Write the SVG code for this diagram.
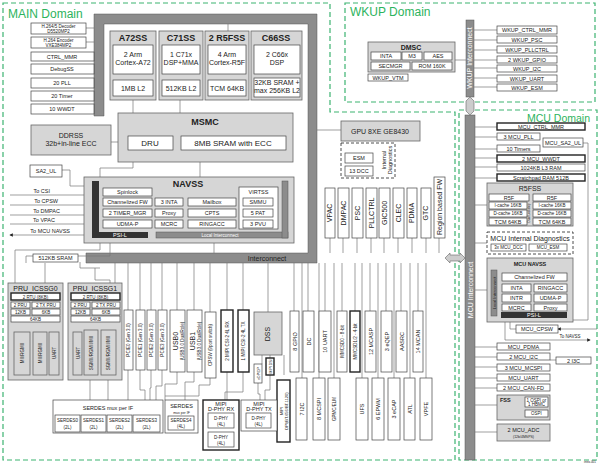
<svg xmlns="http://www.w3.org/2000/svg" width="600" height="465" viewBox="0 0 600 465">
<style>
text{font-family:"Liberation Sans",Arial,sans-serif;font-size:5.5px;fill:#222;text-anchor:middle}
.b{fill:#fff;stroke:#444;stroke-width:0.7}
.k{fill:#fff;stroke:#222;stroke-width:1.4}
.g{fill:#d6d6d6;stroke:#666;stroke-width:0.8}
.bar{fill:#8c8c8c;stroke:#555;stroke-width:0.5}
.dk{fill:#333}
.dom{fill:none;stroke:#3cb371;stroke-width:1.2;stroke-dasharray:5,3}
.dd{fill:none;stroke:#222;stroke-width:0.8;stroke-dasharray:3,2}
.ln{stroke:#777;stroke-width:0.7;fill:none}
.dl{font-size:12px;fill:#2db35d;text-anchor:start}
.h{font-size:9px;font-weight:bold}
.m{font-size:7px}
.s{font-size:4.5px}
.l{text-anchor:start}
.r{text-anchor:end}
.w{fill:#fff}
</style>
<defs>
<marker id="ar" markerWidth="5" markerHeight="5" refX="4" refY="2.5" orient="auto"><path d="M0,0L5,2.5L0,5z" fill="#222"/></marker>
</defs>
<!-- domains -->
<path class="dom" d="M3,3H330V112H455V460H3Z"/>
<text class="dl" x="8" y="18">MAIN Domain</text>
<rect class="dom" x="345" y="3" width="250" height="99"/>
<text class="dl" x="350" y="16">WKUP Domain</text>
<rect class="dom" x="459" y="110" width="138" height="350"/>
<text class="dl" x="527" y="122" style="font-size:10.5px">MCU Domain</text>

<g id="connectors">
<path class="bar" d="M94,14H317V263H86V253H308V24H104V116H94Z"/>
<text x="267" y="260.5" class="m">Interconnect</text>
<path class="ln" d="M86,28H94M86,42H94"/>
<path class="ln" d="M228,24V31M133,99V113M180,99V113M111,142H118M317,130H341M200,162V177M70,170V186H92M62,170H70M133,162V168H100V181"/>
<path class="ln" d="M100,243V250H15V283M110,243V256H26V263M80,262V268H100M95,268V280H110V283"/>
<path class="ln" d="M214,243V253"/>
<path class="ln" d="M330,238V253M343,238V253M357,238V253M371,238V253M384,238V253M398,238V253M412,238V253M426,238V253M439,238V253"/>
<path class="ln" d="M128,263V310M140,263V310M151,263V310M162,263V310M177,263V310M194,263V310M210,263V312M227,263V310M243,263V310M268,263V312M294,263V311M308,263V311M325,263V311M342,263V311M355,263V311M370,263V311M386,263V311M401,263V311M418,263V311M302,263V378M319,263V378M334,263V378M362,263V378M378,263V378M394,263V378M410,263V378M426,263V378"/>
<path class="ln" d="M45,263V283M115,263V283"/>
<path class="ln" d="M90,375V400M108,375V400M128,370V400M140,370V390H145V400M151,370V388H150V400M162,370V386H156V400M177,372V384H165V400M194,372V382H185V400M210,378V385H199V396H165"/>
<path class="ln" d="M227,372V400M243,372V392H225V400M258,383V394H260V400M270,375V390H265V400M284,355V375M262,355V364M270,355V358"/>
<path class="ln" d="M92,195H10M92,205H10M92,215H10M92,224H10M92,235H10" stroke="#333" marker-end="url(#ar)"/>
<rect class="bar" x="466" y="20" width="8" height="77"/>
<text transform="translate(472,58) rotate(-90)" class="m w">WKUP Interconnect</text>
<rect class="bar" x="465" y="115" width="10" height="345"/>
<text transform="translate(472.5,290) rotate(-90)" class="m w">MCU Interconnect</text>
<path d="M470,97L474,101V111L470,115L466,111V101Z" fill="#ccc" stroke="#666" stroke-width="0.6"/>
<path d="M445,258L450,253V255H460V253L465,258L460,263V261H450V263Z" fill="#ccc" stroke="#666" stroke-width="0.6"/>
<path class="ln" d="M455,60H466M474,30H497M474,40H497M474,50H497M474,60H497M474,68H497M474,78H497M474,87H497"/>
<path class="ln" d="M475,127H497M475,137H497M475,149H497M475,158H497M475,167H497M475,178H497M475,205H487M475,243H487M475,290H491M583,143H588V320H567"/>
<path class="ln" d="M475,347H497M475,357H497M475,367H497M475,378H497M475,388H497M475,405H497M475,432H497M550,360H556"/>
<path class="ln" d="M597,329H558" stroke="#333" marker-end="url(#ar)"/>
<path class="ln" d="M510,318V329H516"/>
<path class="ln" d="M505,318V340H590" stroke="#333" marker-end="url(#ar)"/>
</g>

<g id="main-periph">
<rect class="b" x="31" y="23" width="55" height="11"/><text class="s" x="58.5" y="28">H.264/5 Decoder</text><text class="s" x="58.5" y="33">D5520MP2</text>
<rect class="b" x="31" y="37" width="55" height="11"/><text class="s" x="58.5" y="42">H.264 Encoder</text><text class="s" x="58.5" y="47">VXE384MP2</text>
<rect class="b" x="31" y="52" width="63" height="9"/><text x="62" y="58.5">CTRL_MMR</text>
<rect class="b" x="31" y="64" width="63" height="10"/><text x="62" y="71">DebugSS</text>
<rect class="b" x="31" y="78" width="63" height="10"/><text x="62" y="85">20  PLL</text>
<rect class="b" x="31" y="91" width="63" height="10"/><text x="62" y="98">20  Timer</text>
<rect class="b" x="31" y="104" width="63" height="10"/><text x="62" y="111">10  WWDT</text>
</g>
<g id="a72ss"><rect class="g" x="110" y="31" width="46" height="69"/><text class="h" x="133" y="41">A72SS</text>
<rect class="b" x="113" y="45" width="40" height="29"/><text class="m" x="133" y="57">2  Arm</text><text class="m" x="133" y="65">Cortex-A72</text>
<rect class="b" x="113" y="80" width="40" height="16"/><text class="m" x="133" y="90.5">1MB L2</text></g>
<g id="c71ss"><rect class="g" x="159" y="31" width="44" height="69"/><text class="h" x="181" y="41">C71SS</text>
<rect class="b" x="162" y="45" width="38" height="29"/><text class="m" x="181" y="57">1  C71x</text><text class="m" x="181" y="65">DSP+MMA</text>
<rect class="b" x="162" y="80" width="38" height="16"/><text class="m" x="181" y="90.5">512KB L2</text></g>
<g id="r5fss"><rect class="g" x="205" y="31" width="44" height="69"/><text class="h" x="227" y="41">2  R5FSS</text>
<rect class="b" x="208" y="45" width="38" height="29"/><text class="m" x="227" y="57">4  Arm</text><text class="m" x="227" y="65">Cortex-R5F</text>
<rect class="b" x="208" y="80" width="38" height="16"/><text class="m" x="227" y="90.5">TCM 64KB</text></g>
<g id="c66ss"><rect class="g" x="251" y="31" width="51" height="69"/><text class="h" x="276" y="41">C66SS</text>
<rect class="b" x="254" y="45" width="46" height="29"/><text class="m" x="277" y="57">2  C66x</text><text class="m" x="277" y="65">DSP</text>
<rect class="b" x="254" y="78" width="46" height="19"/><text class="m" x="277" y="85">32KB SRAM +</text><text class="m" x="277" y="93">max 256KB L2</text></g>
<g id="msmc"><rect class="g" x="118" y="113" width="175" height="49"/><text class="h" x="205" y="125">MSMC</text>
<rect class="b" x="128" y="136" width="45" height="14"/><text x="150" y="146" style="font-size:8px">DRU</text>
<rect class="b" x="181" y="136" width="105" height="14"/><text x="233" y="146" style="font-size:8px">8MB SRAM with ECC</text></g>
<g id="ddrss"><rect class="g" x="31" y="125" width="80" height="30"/><text class="m" x="71" y="138">DDRSS</text><text class="m" x="71" y="146">32b+in-line ECC</text></g>
<g id="gpu"><rect class="g" x="341" y="121" width="79" height="20"/><text class="m" x="380" y="133.5">GPU 8XE GE8430</text></g>
<g id="diag"><rect class="dd" x="341" y="143" width="54" height="35"/>
<rect class="b" x="345" y="153" width="28" height="10"/><text x="359" y="160">ESM</text>
<rect class="b" x="345" y="166" width="28" height="10"/><text x="359" y="173">13  DCC</text>
<text transform="translate(386,160) rotate(-90)">Internal</text><text transform="translate(392,160) rotate(-90)">Diagnostics</text></g>
<g id="ctrl-row">
<rect class="b" x="325" y="188" width="10" height="50"/><text transform="translate(332,213) rotate(-90)" class="m">VPAC</text>
<rect class="b" x="338" y="188" width="11" height="50"/><text transform="translate(346,213) rotate(-90)" class="m">DMPAC</text>
<rect class="b" x="352" y="188" width="11" height="50"/><text transform="translate(360,213) rotate(-90)" class="m">PSC</text>
<rect class="b" x="366" y="188" width="11" height="50"/><text transform="translate(374,213) rotate(-90)" class="m">PLLCTRL</text>
<rect class="b" x="379" y="188" width="11" height="50"/><text transform="translate(387,213) rotate(-90)" class="m">GIC500</text>
<rect class="b" x="393" y="188" width="11" height="50"/><text transform="translate(401,213) rotate(-90)" class="m">CLEC</text>
<rect class="b" x="407" y="188" width="10" height="50"/><text transform="translate(414,213) rotate(-90)" class="m">PDMA</text>
<rect class="b" x="421" y="188" width="10" height="50"/><text transform="translate(428,213) rotate(-90)" class="m">GTC</text>
<rect class="b" x="434" y="177" width="11" height="61"/><text transform="translate(442,207) rotate(-90)" class="m">Region based FW</text>
</g>
<g id="navss"><rect class="g" x="84" y="177" width="210" height="66"/><text class="h" x="188" y="187">NAVSS</text>
<rect class="dk" x="92" y="181" width="7" height="57"/><rect class="dk" x="92" y="232" width="56" height="6"/><text class="w" x="120" y="237">PSI-L</text>
<rect class="bar" x="156" y="232" width="132" height="6"/><rect class="bar" x="282" y="181" width="6" height="57"/><text class="w" x="220" y="237" style="font-size:4.5px">Local Interconnect</text>
<rect class="b" x="103" y="188" width="49" height="8"/><text x="127.5" y="194">Spinlock</text>
<rect class="b" x="103" y="198" width="49" height="8"/><text x="127.5" y="204">Channelized FW</text>
<rect class="b" x="103" y="209" width="49" height="8"/><text x="127.5" y="215">2  TIMER_MGR</text>
<rect class="b" x="103" y="220" width="49" height="8"/><text x="127.5" y="226">UDMA-P</text>
<rect class="b" x="155" y="198" width="28" height="8"/><text x="169" y="204">3  INTA</text>
<rect class="b" x="155" y="209" width="28" height="8"/><text x="169" y="215">Proxy</text>
<rect class="b" x="155" y="220" width="28" height="8"/><text x="169" y="226">MCRC</text>
<rect class="b" x="188" y="198" width="48" height="8"/><text x="212" y="204">Mailbox</text>
<rect class="b" x="188" y="209" width="48" height="8"/><text x="212" y="215">CPTS</text>
<rect class="b" x="188" y="220" width="48" height="8"/><text x="212" y="226">RINGACC</text>
<rect class="b" x="239" y="187" width="39" height="42"/><text x="258.5" y="194">VIRTSS</text>
<rect class="b" x="243" y="198" width="30" height="8"/><text x="258" y="204">SMMU</text>
<rect class="b" x="243" y="209" width="30" height="8"/><text x="258" y="215">5  PAT</text>
<rect class="b" x="243" y="220" width="30" height="8"/><text x="258" y="226">3  PVU</text></g>
<text class="r" x="50" y="193">To CSI</text><text class="r" x="58" y="203">To CPSW</text><text class="r" x="60" y="213">To DMPAC</text><text class="r" x="55" y="222">To VPAC</text><text class="r" x="70" y="233">To MCU NAVSS</text>
<g id="sa2ul"><rect class="b" x="30" y="165" width="32" height="12"/><text x="46" y="173">SA2_UL</text></g>
<g id="sram"><rect class="b" x="33" y="254" width="45" height="8"/><text x="55.5" y="260">512KB SRAM</text></g>
<g id="pru0"><rect class="g" x="8" y="283" width="55" height="97"/><text class="m" x="35.5" y="291">PRU_ICSSG0</text>
<rect class="k" x="11" y="293" width="49" height="7"/><text class="s" x="35.5" y="298.5">2  RTU (8KB)</text>
<rect class="b" x="11" y="302" width="19" height="6"/><text class="s" x="20.5" y="306.8">2  PRU</text><rect class="b" x="32" y="302" width="28" height="6"/><text class="s" x="46" y="306.8">2  TX PRU</text>
<rect class="b" x="11" y="309" width="19" height="6"/><text class="s" x="20.5" y="313.8">12KB</text><rect class="b" x="32" y="309" width="28" height="6"/><text class="s" x="46" y="313.8">6KB</text>
<rect class="b" x="11" y="316" width="49" height="6"/><text class="s" x="35.5" y="320.8">64KB</text>
<rect class="g" x="14" y="332" width="16" height="43"/><text class="s" transform="translate(24,353) rotate(-90)">MII/RGMII</text>
<rect class="g" x="33" y="332" width="14" height="43"/><text class="s" transform="translate(42,353) rotate(-90)">MII/RGMII</text>
<rect class="g" x="49" y="332" width="10" height="43"/><text class="s" transform="translate(56,353) rotate(-90)">UART</text></g>
<g id="pru1"><rect class="g" x="68" y="283" width="54" height="97"/><text class="m" x="95" y="291">PRU_ICSSG1</text>
<rect class="k" x="71" y="293" width="49" height="7"/><text class="s" x="95.5" y="298.5">2  RTU (8KB)</text>
<rect class="b" x="71" y="302" width="19" height="6"/><text class="s" x="80.5" y="306.8">2  PRU</text><rect class="b" x="92" y="302" width="28" height="6"/><text class="s" x="106" y="306.8">2  TX PRU</text>
<rect class="b" x="71" y="309" width="19" height="6"/><text class="s" x="80.5" y="313.8">12KB</text><rect class="b" x="92" y="309" width="28" height="6"/><text class="s" x="106" y="313.8">6KB</text>
<rect class="b" x="71" y="316" width="49" height="6"/><text class="s" x="95.5" y="320.8">64KB</text>
<rect class="g" x="73" y="332" width="9" height="43"/><text class="s" transform="translate(79.5,353) rotate(-90)">UART</text>
<rect class="g" x="84" y="330" width="14" height="45"/><text class="s" transform="translate(93,353) rotate(-90)">SGMII/RGMII/MII</text>
<rect class="g" x="101" y="330" width="15" height="45"/><text class="s" transform="translate(110,353) rotate(-90)">SGMII/RGMII/MII</text></g>
<g id="hs">
<rect class="b" x="124" y="310" width="9" height="60"/><text class="s" transform="translate(130,340) rotate(-90)">PCIE0 (Gen 3.0)</text>
<rect class="b" x="136" y="310" width="9" height="60"/><text class="s" transform="translate(142,340) rotate(-90)">PCIE1 (Gen 3.0)</text>
<rect class="b" x="147" y="310" width="9" height="60"/><text class="s" transform="translate(153,340) rotate(-90)">PCIE2 (Gen 3.0)</text>
<rect class="b" x="158" y="310" width="9" height="60"/><text class="s" transform="translate(164,340) rotate(-90)">PCIE3 (Gen 3.0)</text>
<rect class="b" x="170" y="310" width="15" height="62"/><text class="m" transform="translate(178,341) rotate(-90)">USB0</text><text class="s" transform="translate(184,341) rotate(-90)">(USB3.0 DualRole)</text>
<rect class="b" x="187" y="310" width="15" height="62"/><text class="m" transform="translate(195,341) rotate(-90)">USB1</text><text class="s" transform="translate(201,341) rotate(-90)">(USB3.0 DualRole)</text>
<rect class="b" x="205" y="312" width="11" height="66"/><text class="s" transform="translate(212,345) rotate(-90)">CPSW (9port switch)</text>
<rect class="k" x="221" y="310" width="12" height="62"/><text class="s" transform="translate(229,341) rotate(-90)">2  MIPI CSI-2 4L RX</text>
<rect class="k" x="238" y="310" width="11" height="62"/><text class="s" transform="translate(245,341) rotate(-90)">1  MIPI CSI-2 4L TX</text>
<rect class="g" x="254" y="312" width="28" height="43"/><text class="m" transform="translate(270,334) rotate(-90)">DSS</text>
<rect class="b" x="254" y="364" width="8" height="19"/><text class="s" style="font-size:3.5px" transform="translate(259.5,373.5) rotate(-90)">eDP/DP</text>
<rect class="k" x="266" y="358" width="8" height="17"/><text class="s" style="font-size:3.5px" transform="translate(271.5,366.5) rotate(-90)">MIPI DSI</text>
<rect class="k" x="277" y="380" width="13" height="62"/><text class="s" style="font-size:4px" transform="translate(283,411) rotate(-90)">MIPI</text><text class="s" style="font-size:4px" transform="translate(288,411) rotate(-90)">DPI(BT.656/BT.1120)</text>
</g>
<g id="periph1">
<rect class="b" x="290" y="311" width="9" height="61"/><text transform="translate(296.5,341.5) rotate(-90)">8  GPIO</text>
<rect class="b" x="303" y="311" width="11" height="61"/><text transform="translate(310.5,341.5) rotate(-90)">DC</text>
<rect class="b" x="319" y="311" width="12" height="61"/><text transform="translate(327,341.5) rotate(-90)">10  UART</text>
<rect class="b" x="337" y="311" width="10" height="61"/><text class="s" transform="translate(344,341.5) rotate(-90)">MMCSD0 - 8-bit</text>
<rect class="k" x="350" y="311" width="10" height="61"/><text class="s" transform="translate(357,341.5) rotate(-90)">MMCSD1/2 - 4-bit</text>
<rect class="b" x="365" y="311" width="11" height="61"/><text transform="translate(372.5,341.5) rotate(-90)">12  MCASP</text>
<rect class="b" x="381" y="311" width="11" height="61"/><text transform="translate(388.5,341.5) rotate(-90)">3  eQEP</text>
<rect class="b" x="396" y="311" width="11" height="61"/><text transform="translate(403.5,341.5) rotate(-90)">AASRC</text>
<rect class="b" x="413" y="311" width="10" height="61"/><text transform="translate(420,341.5) rotate(-90)">14  MCAN</text>
</g>
<g id="periph2">
<rect class="b" x="296" y="378" width="11" height="62"/><text transform="translate(303.5,409) rotate(-90)">7  I2C</text>
<rect class="b" x="313" y="378" width="12" height="62"/><text transform="translate(321,409) rotate(-90)">8  MCSPI</text>
<rect class="b" x="328" y="378" width="12" height="62"/><text class="s" transform="translate(336,409) rotate(-90)">GPMC/ELM</text>
<rect class="b" x="356" y="378" width="12" height="62"/><text transform="translate(364,409) rotate(-90)">UFS</text>
<rect class="b" x="372" y="378" width="12" height="62"/><text transform="translate(380,409) rotate(-90)">6  EPWM</text>
<rect class="b" x="388" y="378" width="12" height="62"/><text transform="translate(396,409) rotate(-90)">3  eCAP</text>
<rect class="b" x="404" y="378" width="11" height="62"/><text transform="translate(411.5,409) rotate(-90)">ATL</text>
<rect class="b" x="420" y="378" width="12" height="62"/><text transform="translate(428,409) rotate(-90)">VPFE</text>
</g>
<g id="serdes"><rect class="b" x="53" y="400" width="110" height="33"/><text x="108" y="410">SERDES mux per IF</text>
<rect class="b" x="55" y="415" width="25" height="17"/><text class="s" x="67.5" y="422">SERDES0</text><text class="s" x="67.5" y="429">(2L)</text>
<rect class="b" x="81" y="415" width="25" height="17"/><text class="s" x="93.5" y="422">SERDES1</text><text class="s" x="93.5" y="429">(2L)</text>
<rect class="b" x="107" y="415" width="25" height="17"/><text class="s" x="119.5" y="422">SERDES2</text><text class="s" x="119.5" y="429">(2L)</text>
<rect class="b" x="133" y="415" width="27" height="17"/><text class="s" x="146.5" y="422">SERDES3</text><text class="s" x="146.5" y="429">(2L)</text></g>
<g id="serdes4"><rect class="b" x="165" y="400" width="33" height="33"/><text x="181.5" y="408">SERDES</text><text x="181.5" y="414" style="font-size:3.5px">mux per IF</text>
<rect class="b" x="168" y="416" width="26" height="14"/><text class="s" x="181" y="422">SERDES4</text><text class="s" x="181" y="428">(4L)</text></g>
<g id="dphyrx"><rect class="k" x="203" y="400" width="36" height="50"/><text x="221" y="406">MIPI</text><text x="221" y="411">D-PHY RX</text>
<rect class="b" x="208" y="413" width="26" height="15"/><text class="s" x="221" y="419.5">D-PHY</text><text class="s" x="221" y="425.5">(4L)</text>
<rect class="b" x="208" y="432" width="26" height="15"/><text class="s" x="221" y="438.5">D-PHY</text><text class="s" x="221" y="444.5">(4L)</text></g>
<g id="dphytx"><rect class="b" x="241" y="400" width="36" height="31"/><text x="259" y="406">MIPI</text><text x="259" y="411">D-PHY TX</text>
<rect class="b" x="246" y="413" width="25" height="15"/><text class="s" x="258.5" y="419.5">D-PHY</text><text class="s" x="258.5" y="425.5">(4L)</text></g>
<g id="dmsc"><rect class="g" x="368" y="42" width="87" height="30"/><text class="m" x="411" y="50" style="font-weight:bold">DMSC</text>
<rect class="b" x="371" y="52" width="30" height="8"/><text x="386" y="58">INTA</text>
<rect class="b" x="402" y="52" width="20" height="8"/><text x="412" y="58">M3</text>
<rect class="b" x="424" y="52" width="28" height="8"/><text x="438" y="58">AES</text>
<rect class="b" x="371" y="62" width="39" height="8"/><text x="390.5" y="68">SECMGR</text>
<rect class="b" x="412" y="62" width="40" height="8"/><text x="432" y="68">ROM 160K</text></g>
<g id="wkupvtm"><rect class="b" x="368" y="74" width="40" height="7"/><text x="388" y="79.5">WKUP_VTM</text></g>
<g id="wkup-list">
<rect class="b" x="497" y="26" width="60" height="8"/><text x="527" y="32">WKUP_CTRL_MMR</text>
<rect class="b" x="497" y="36" width="60" height="7"/><text x="527" y="41.5">WKUP_PSC</text>
<rect class="b" x="497" y="46" width="60" height="7"/><text x="527" y="51.5">WKUP_PLLCTRL</text>
<rect class="b" x="497" y="56" width="60" height="7"/><text x="527" y="61.5">2  WKUP_GPIO</text>
<rect class="b" x="497" y="65" width="60" height="7"/><text x="527" y="70.5">WKUP_I2C</text>
<rect class="b" x="497" y="75" width="60" height="7"/><text x="527" y="80.5">WKUP_UART</text>
<rect class="b" x="497" y="84" width="60" height="7"/><text x="527" y="89.5">WKUP_ESM</text></g>
<g id="mcu-list">
<rect class="k" x="497" y="123" width="88" height="7"/><text x="541" y="128.5">MCU_CTRL_MMR</text>
<rect class="b" x="497" y="133" width="43" height="7"/><text x="518.5" y="138.5">3  MCU_PLL</text>
<rect class="b" x="543" y="138" width="40" height="9"/><text x="563" y="144.5">MCU_SA2_UL</text>
<rect class="b" x="497" y="145" width="43" height="7"/><text x="518.5" y="150.5">10  Timers</text>
<rect class="k" x="497" y="155" width="88" height="7"/><text x="541" y="160.5">2  MCU_WWDT</text>
<rect class="b" x="497" y="164" width="88" height="7"/><text x="541" y="169.5">1024KB L3 RAM</text>
<rect class="k" x="497" y="174" width="88" height="7"/><text x="541" y="179.5">Scratchpad RAM 512B</text></g>
<g id="mcu-r5fss"><rect class="g" x="487" y="183" width="86" height="43"/><text x="530" y="190.5" class="m">R5FSS</text>
<rect class="b" x="489" y="194" width="40" height="7"/><text x="509" y="199.5">R5F</text><rect class="b" x="533" y="194" width="38" height="7"/><text x="552" y="199.5">R5F</text>
<rect class="b" x="489" y="202" width="38" height="7"/><text class="s" x="508" y="207">I-cache 16KB</text><rect class="b" x="533" y="202" width="38" height="7"/><text class="s" x="552" y="207">I-cache 16KB</text>
<rect class="b" x="489" y="210" width="38" height="7"/><text class="s" x="508" y="215">D-cache 16KB</text><rect class="b" x="533" y="210" width="38" height="7"/><text class="s" x="552" y="215">D-cache 16KB</text>
<rect class="b" x="489" y="218" width="38" height="7"/><text x="508" y="223.5">TCM 64KB</text><rect class="b" x="533" y="218" width="38" height="7"/><text x="552" y="223.5">TCM 64KB</text>
<text transform="translate(530,213) rotate(-90)" style="font-size:3px">Dual Lockstep</text></g>
<g id="mcu-diag"><rect class="dd" x="487" y="232" width="86" height="22"/><text x="530" y="241" class="m">MCU Internal Diagnostics</text>
<rect class="b" x="491" y="244" width="35" height="7"/><text class="s" x="508.5" y="249">3x MCU_DCC</text>
<rect class="b" x="529" y="244" width="38" height="7"/><text class="s" x="548" y="249">MCU_ESM</text></g>
<g id="mcu-navss"><rect class="g" x="487" y="258" width="86" height="64"/><text x="530" y="266" style="font-weight:bold">MCU NAVSS</text>
<rect class="bar" x="491" y="270" width="6" height="46"/><text transform="translate(495.5,293) rotate(-90)" style="font-size:4px">Local Interconnect</text>
<rect class="b" x="502" y="273" width="65" height="8"/><text x="534.5" y="279">Channelized FW</text>
<rect class="b" x="502" y="284" width="29" height="8"/><text x="516.5" y="290">INTA</text><rect class="b" x="534" y="284" width="33" height="8"/><text x="550.5" y="290">RINGACC</text>
<rect class="b" x="502" y="294" width="29" height="8"/><text x="516.5" y="300">INTR</text><rect class="b" x="534" y="294" width="33" height="8"/><text x="550.5" y="300">UDMA-P</text>
<rect class="b" x="502" y="304" width="29" height="7"/><text x="516.5" y="309.5">MCRC</text><rect class="b" x="534" y="304" width="33" height="7"/><text x="550.5" y="309.5">Proxy</text>
<rect class="dk" x="501" y="312" width="66" height="6"/><text class="w" x="534" y="317">PSI-L</text></g>
<g id="mcu-cpsw"><rect class="b" x="516" y="325" width="42" height="8"/><text x="537" y="331">MCU_CPSW</text></g>
<text x="570" y="338" class="s">To NAVSS</text>
<g id="mcu-list2">
<rect class="b" x="497" y="343" width="53" height="7"/><text x="523.5" y="348.5">MCU_PDMA</text>
<rect class="b" x="497" y="353" width="53" height="7"/><text x="523.5" y="358.5">2  MCU_I2C</text>
<rect class="b" x="556" y="357" width="35" height="7"/><text x="573.5" y="362.5">2  I3C</text>
<rect class="b" x="497" y="364" width="53" height="7"/><text x="523.5" y="369.5">3  MCU_MCSPI</text>
<rect class="b" x="497" y="374" width="53" height="7"/><text x="523.5" y="379.5">MCU_UART</text>
<rect class="b" x="497" y="384" width="53" height="7"/><text x="523.5" y="389.5">2  MCU_CAN-FD</text>
<rect class="g" x="497" y="395" width="53" height="25"/><text class="l" x="500" y="402" style="font-weight:bold">FSS</text>
<rect class="b" x="525" y="397" width="23" height="10"/><text class="s" x="536.5" y="401.5">1  OSPI or</text><text class="s" x="536.5" y="406">1  HBMC</text>
<rect class="b" x="525" y="410" width="23" height="7"/><text class="s" x="536.5" y="415">OSPI</text>
<rect class="g" x="497" y="424" width="53" height="17"/><text x="523.5" y="432">2  MCU_ADC</text><text x="523.5" y="438" style="font-size:3.5px">(12b/4MSPS)</text></g>
<text x="590" y="463" style="font-size:3px">intro-001</text>
</svg>
